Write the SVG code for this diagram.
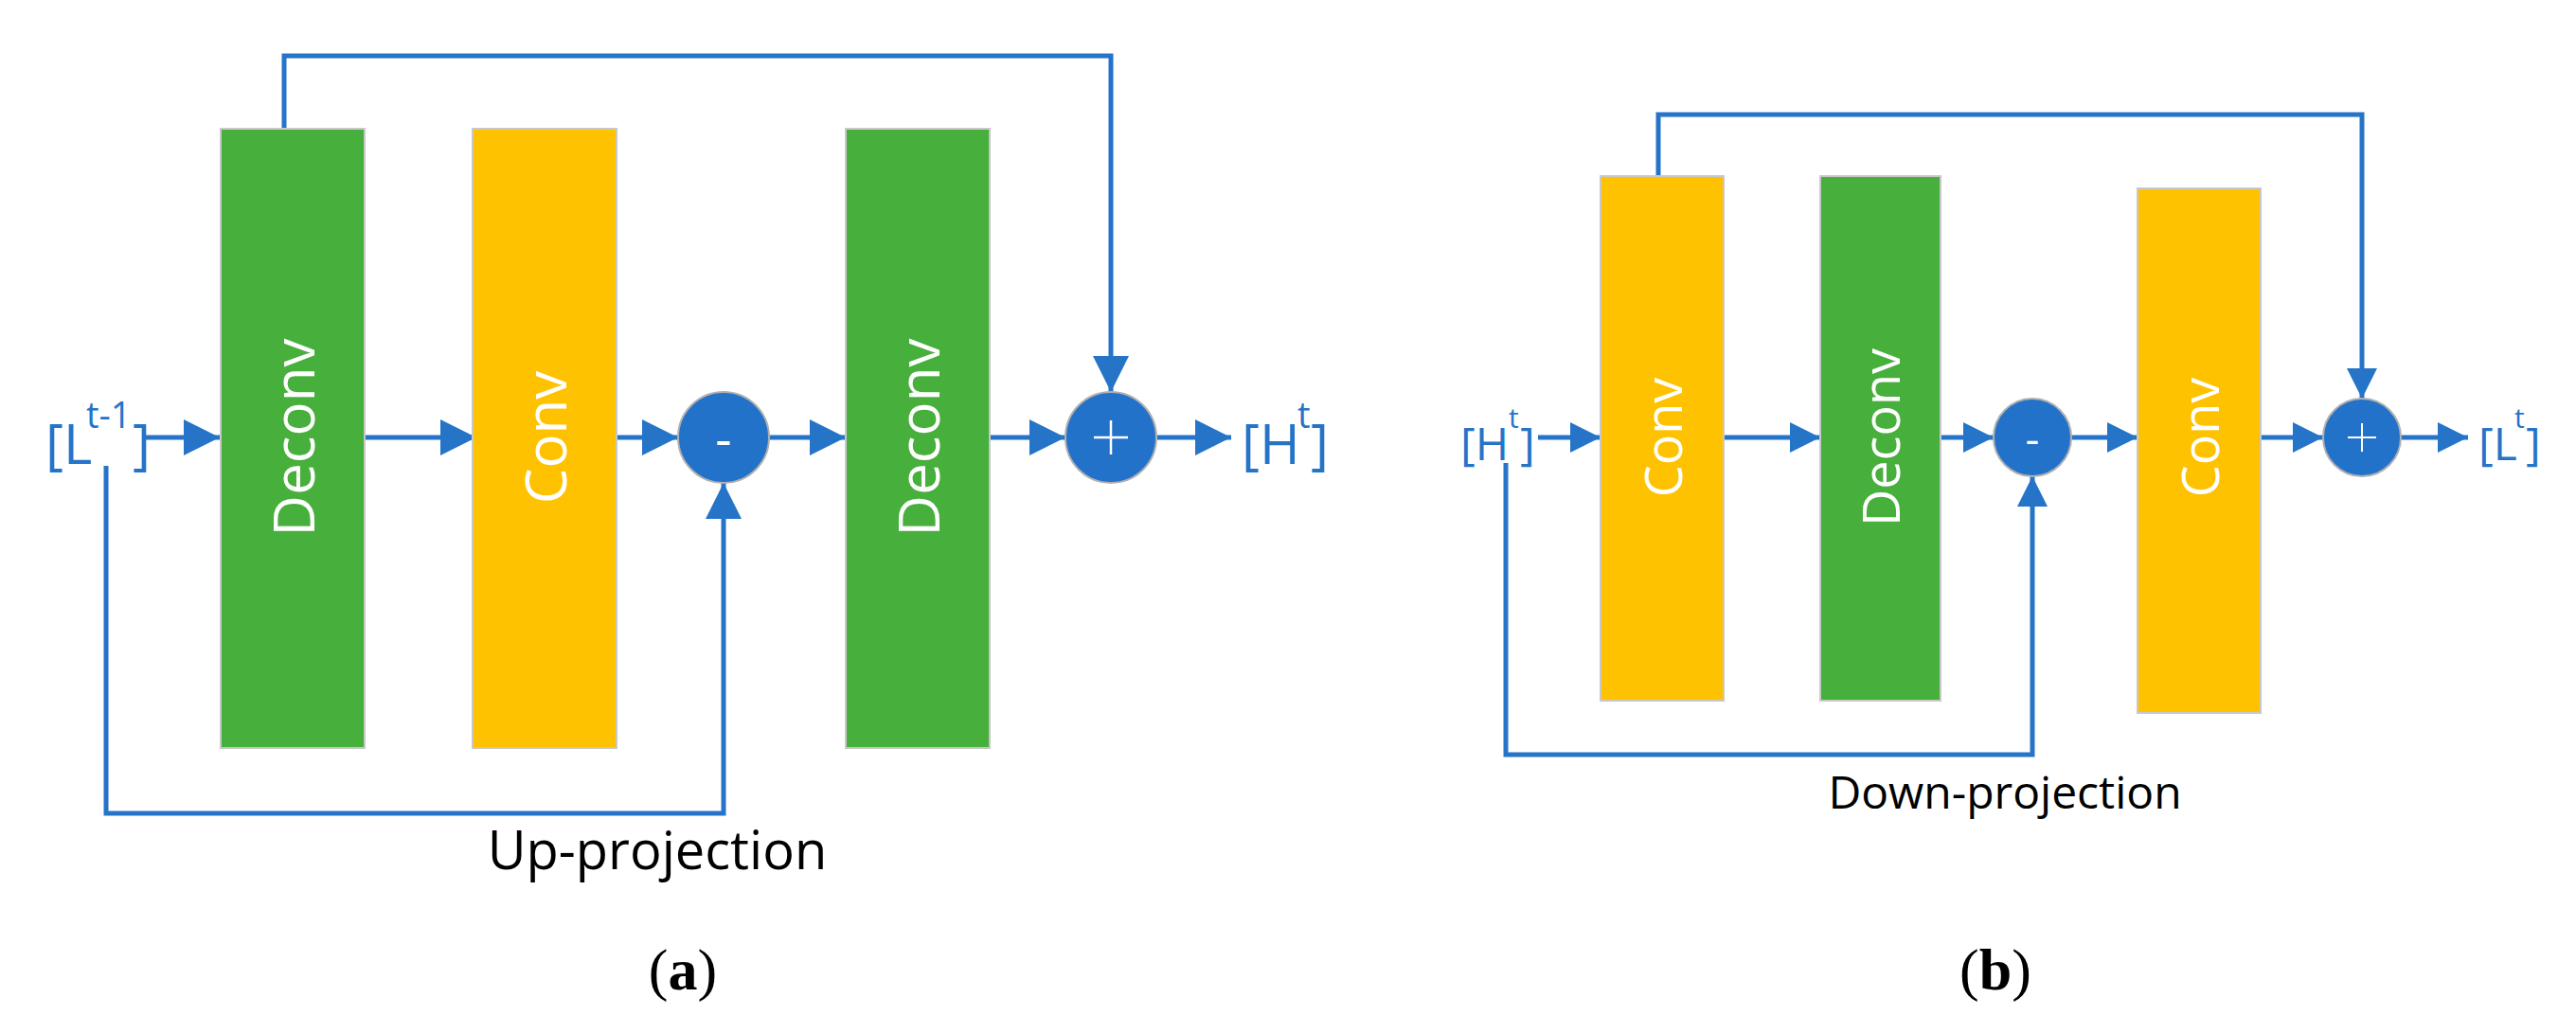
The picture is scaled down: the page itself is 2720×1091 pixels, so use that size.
<svg xmlns="http://www.w3.org/2000/svg" width="2720" height="1091" viewBox="0 0 2720 1091">
<style>
.g{fill:#47AF3C;stroke:#C8C8C8;stroke-width:2}
.y{fill:#FFC200;stroke:#C8C8C8;stroke-width:2}
.c{fill:#2372C9;stroke:#B0B0B0;stroke-width:2}
.w{fill:#fff;font-family:"Open Sans","Noto Sans",sans-serif;text-anchor:middle;dominant-baseline:central}
.l{fill:none;stroke:#2674C8;stroke-width:5}
.b{fill:#2674C8;font-family:"Open Sans","Noto Sans",sans-serif}
.k{fill:#000;font-family:"Open Sans","Noto Sans",sans-serif;text-anchor:middle}
.cap{fill:#000;font-family:"Liberation Serif",serif;font-size:62px;text-anchor:middle}
</style>
<defs>
<marker id="a" markerWidth="38" markerHeight="38" refX="38" refY="19" orient="auto" markerUnits="userSpaceOnUse"><path d="M0,0 L38,19 L0,38z" fill="#2674C8"/></marker>
<marker id="s" markerWidth="32" markerHeight="32" refX="32" refY="16" orient="auto" markerUnits="userSpaceOnUse"><path d="M0,0 L32,16 L0,32z" fill="#2674C8"/></marker>
</defs>
<g id="connectors" class="l">
<path d="M152,462 H232" marker-end="url(#a)"/>
<path d="M385,462 H503" marker-end="url(#a)"/>
<path d="M650,462 H716" marker-end="url(#a)"/>
<path d="M812,462 H893" marker-end="url(#a)"/>
<path d="M1045,462 H1125" marker-end="url(#a)"/>
<path d="M1222,462 H1300" marker-end="url(#a)"/>
<path d="M300,136 V59 H1173 V414" marker-end="url(#a)"/>
<path d="M112,492 V859 H764 V510" marker-end="url(#a)"/>
<path d="M1624,462 H1690" marker-end="url(#s)"/>
<path d="M1820,462 H1922" marker-end="url(#s)"/>
<path d="M2049,462 H2105" marker-end="url(#s)"/>
<path d="M2187,462 H2257" marker-end="url(#s)"/>
<path d="M2387,462 H2453" marker-end="url(#s)"/>
<path d="M2535,462 H2606" marker-end="url(#s)"/>
<path d="M1751,186 V121 H2494 V421" marker-end="url(#s)"/>
<path d="M1590,489 V797 H2146 V503" marker-end="url(#s)"/>
</g>
<g id="deconv1"><rect class="g" x="233" y="136" width="152" height="654"/><text class="w" font-size="60" transform="translate(309,462) rotate(-90)">Deconv</text></g>
<g id="conv1"><rect class="y" x="499" y="136" width="152" height="654"/><text class="w" font-size="60" transform="translate(575,462) rotate(-90)">Conv</text></g>
<g id="deconv2"><rect class="g" x="893" y="136" width="152" height="654"/><text class="w" font-size="60" transform="translate(969,462) rotate(-90)">Deconv</text></g>
<g id="minus1"><circle class="c" cx="764" cy="462" r="48"/><text class="w" font-size="54" x="764" y="462">-</text></g>
<g id="plus1"><circle class="c" cx="1173" cy="462" r="48"/><path d="M1173,444 V480 M1155,462 H1191" stroke="#fff" stroke-width="2.5"/></g>
<g id="in1"><text class="b" font-size="58" x="48" y="490">[L</text><text class="b" font-size="38" x="91" y="452">t-1</text><text class="b" font-size="58" x="140" y="490">]</text></g>
<g id="out1"><text class="b" font-size="58" x="1311" y="490">[H</text><text class="b" font-size="38" x="1370" y="452">t</text><text class="b" font-size="58" x="1384" y="490">]</text></g>
<text class="k" font-size="56" x="694" y="918">Up-projection</text>
<text class="cap" x="721" y="1045">(<tspan font-weight="bold">a</tspan>)</text>
<g id="conv2"><rect class="y" x="1690" y="186" width="130" height="554"/><text class="w" font-size="54" transform="translate(1755,462) rotate(-90)">Conv</text></g>
<g id="deconv3"><rect class="g" x="1922" y="186" width="127" height="554"/><text class="w" font-size="54" transform="translate(1985,462) rotate(-90)">Deconv</text></g>
<g id="conv3"><rect class="y" x="2257" y="199" width="130" height="554"/><text class="w" font-size="54" transform="translate(2322,462) rotate(-90)">Conv</text></g>
<g id="minus2"><circle class="c" cx="2146" cy="462" r="41"/><text class="w" font-size="46" x="2146" y="462">-</text></g>
<g id="plus2"><circle class="c" cx="2494" cy="462" r="41"/><path d="M2494,447 V477 M2479,462 H2509" stroke="#fff" stroke-width="2"/></g>
<g id="in2"><text class="b" font-size="48" x="1542" y="486">[H</text><text class="b" font-size="30" x="1593" y="452">t</text><text class="b" font-size="48" x="1605" y="486">]</text></g>
<g id="out2"><text class="b" font-size="48" x="2617" y="486">[L</text><text class="b" font-size="30" x="2655" y="452">t</text><text class="b" font-size="48" x="2667" y="486">]</text></g>
<text class="k" font-size="48" x="2117" y="854">Down-projection</text>
<text class="cap" x="2107" y="1045">(<tspan font-weight="bold">b</tspan>)</text>
</svg>
